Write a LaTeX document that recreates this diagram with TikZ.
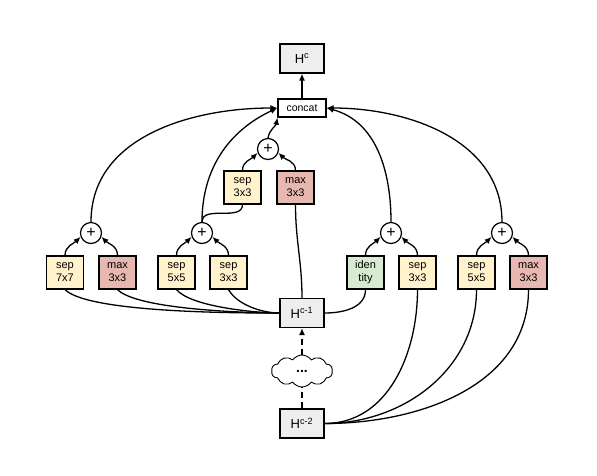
\documentclass[tikz,border=0pt]{standalone}
\usepackage{fontspec}
\setmainfont{Liberation Sans}
\usetikzlibrary{arrows.meta,shapes.symbols}
\definecolor{sepc}{HTML}{FFF2CC}
\definecolor{maxc}{HTML}{E6B8AF}
\definecolor{idc}{HTML}{D9EAD3}
\definecolor{hc}{HTML}{EEEEEE}
\begin{document}
\begin{tikzpicture}[x=1pt,y=-1pt,
  box/.style={draw, line width=1.2pt, minimum width=37pt, minimum height=33pt, inner sep=0pt, align=center, font=\fontsize{11}{13}\selectfont},
  sepbox/.style={box, fill=sepc},
  maxbox/.style={box, fill=maxc},
  idbox/.style={box, fill=idc},
  hbox/.style={draw, line width=1.2pt, fill=hc, minimum width=44pt, minimum height=29pt, inner sep=0pt, font=\fontsize{13}{13}\selectfont},
  plus/.style={draw, circle, line width=1.2pt, minimum size=21pt, inner sep=0pt, fill=white, font=\fontsize{16}{16}\selectfont},
  arr/.style={-{Latex[length=7pt,width=6pt]}, line width=1.3pt},
  ln/.style={line width=1.3pt}]
\useasboundingbox (0,0) rectangle (597,475);

\node[hbox] (hc) at (302,58.5) {H\textsuperscript{c}};
\node[draw, line width=1.2pt, fill=white, minimum width=48pt, minimum height=18pt, inner sep=0pt, font=\fontsize{10.5}{10.5}\selectfont] (concat) at (302,108) {concat};
\node[plus] (pt) at (268,149) {+};
\node[sepbox] (s3t) at (242.5,187.5) {sep\\3x3};
\node[maxbox] (m3t) at (295.5,187.5) {max\\3x3};

\node[plus] (p1) at (91,233) {+};
\node[plus] (p2) at (202,233) {+};
\node[plus] (p3) at (391,233) {+};
\node[plus] (p4) at (502,233) {+};

\node[sepbox] (b1) at (65,272.5) {sep\\7x7};
\node[maxbox] (b2) at (117.5,272.5) {max\\3x3};
\node[sepbox] (b3) at (176.5,272.5) {sep\\5x5};
\node[sepbox] (b4) at (228.5,272.5) {sep\\3x3};
\node[idbox] (b5) at (365.5,272.5) {iden\\tity};
\node[sepbox] (b6) at (417.5,272.5) {sep\\3x3};
\node[sepbox] (b7) at (476.5,272.5) {sep\\5x5};
\node[maxbox] (b8) at (528.5,272.5) {max\\3x3};

\node[hbox] (h1) at (302,313) {H\textsuperscript{c-1}};
\node[cloud, draw, line width=0.9pt, cloud puffs=10, cloud puff arc=110, aspect=2, minimum width=61pt, minimum height=32pt, inner sep=0pt, font=\fontsize{14}{14}\selectfont] (cl) at (302,371) {\raisebox{-3pt}{\textbf{...}}};
\node[hbox] (h2) at (302,423.5) {H\textsuperscript{c-2}};

% inputs to lower boxes
\draw[ln] (b1.south) to[out=-45,in=180,looseness=0.4] (h1.west);
\draw[ln] (b2.south) to[out=-45,in=180,looseness=0.45] (h1.west);
\draw[ln] (b3.south) to[out=-50,in=180,looseness=0.55] (h1.west);
\draw[ln] (b4.south) to[out=-60,in=180,looseness=0.8] (h1.west);
\draw[ln] (m3t.south) to[out=-90,in=90] (h1.north);
\draw[ln] (h1.east) to[out=0,in=-90] (b5.south);
\foreach \b in {b6,b7,b8}
  \draw[ln] (h2.east) to[out=0,in=-90] (\b.south);

% dashed
\draw[ln, dash pattern=on 6pt off 4pt] (h2.north) -- (cl.south);
\draw[arr, dash pattern=on 6pt off 4pt] (cl.north) -- (h1.south);

% boxes to plus
\draw[arr] (b1.north) to[out=90,in=-135] (p1.-160);
\draw[arr] (b2.north) to[out=90,in=-45] (p1.-20);
\draw[arr] (b3.north) to[out=90,in=-135] (p2.-160);
\draw[arr] (b4.north) to[out=90,in=-45] (p2.-20);
\draw[arr] (b5.north) to[out=90,in=-135] (p3.-160);
\draw[arr] (b6.north) to[out=90,in=-45] (p3.-20);
\draw[arr] (b7.north) to[out=90,in=-135] (p4.-160);
\draw[arr] (b8.north) to[out=90,in=-45] (p4.-20);
\draw[arr] (s3t.north) to[out=90,in=-135] (pt.-160);
\draw[arr] (m3t.north) to[out=90,in=-45] (pt.-20);

% to concat
\draw[ln] (p2.north) to[out=90,in=-90] (s3t.south);
\draw[arr] (p1.north) to[out=90,in=180] (concat.west);
\draw[arr] (p2.north) to[out=90,in=205] (concat.west);
\draw[arr] (pt.north) to[out=80,in=-100] (concat.south west);
\draw[arr] (p3.north) to[out=90,in=-15] (concat.east);
\draw[arr] (p4.north) to[out=90,in=0] (concat.east);
\draw[arr] (concat.north) -- (hc.south);
\end{tikzpicture}
\end{document}
